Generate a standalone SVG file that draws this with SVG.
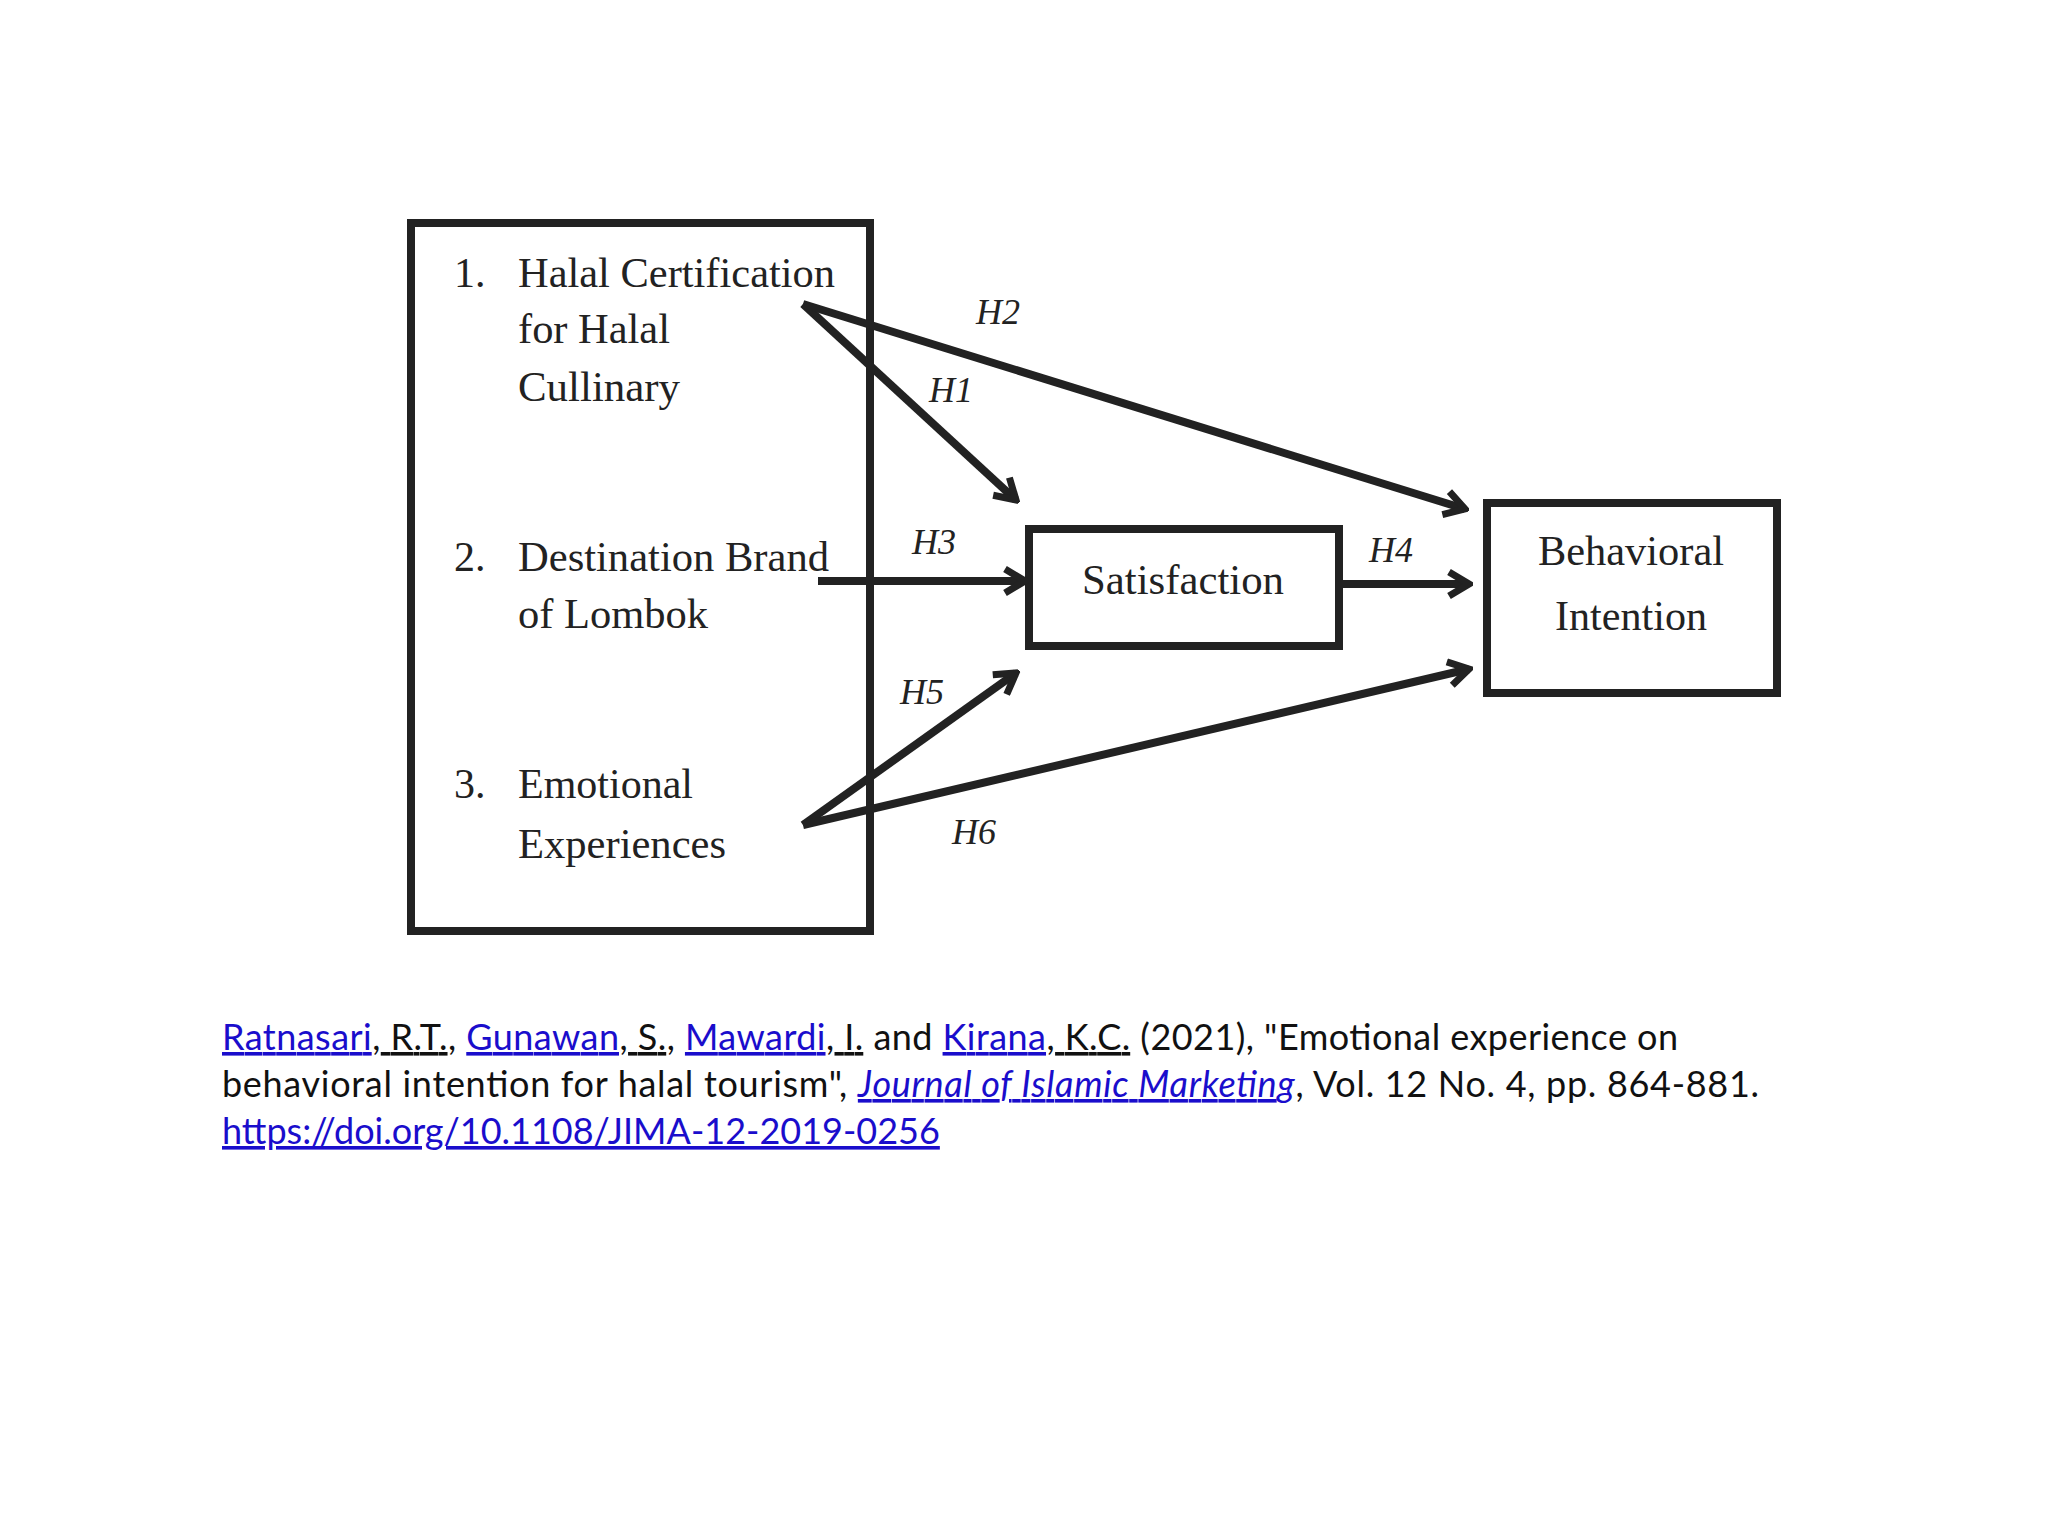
<svg xmlns="http://www.w3.org/2000/svg" width="2048" height="1536" viewBox="0 0 2048 1536">
<style>
.box{fill:none;stroke:#222;stroke-width:8}
.t{font-family:"Liberation Serif","DejaVu Serif",serif;font-size:42px;fill:#222}
.h{font-family:"Liberation Serif",serif;font-style:italic;font-size:36px;fill:#222}
.c{stroke:#222;stroke-width:8;fill:none}
.cit{font-family:Lato,"Liberation Sans",sans-serif;font-size:36px;fill:#111}
.l{fill:#1a0dcc;text-decoration:underline}
.u{text-decoration:underline}
</style>
<defs>
<marker id="ah" markerUnits="userSpaceOnUse" viewBox="0 0 30 30" refX="26" refY="15" markerWidth="30" markerHeight="30" orient="auto">
<path d="M6,3 L26,15 L6,27" fill="none" stroke="#222" stroke-width="7"/>
</marker>
</defs>
<rect width="2048" height="1536" fill="#fff"/>
<g id="sources">
<rect class="box" x="411" y="223" width="459" height="708"/>
<text class="t" x="454" y="287">1.</text>
<text class="t" x="518" y="287" textLength="317" lengthAdjust="spacingAndGlyphs">Halal Certification</text>
<text class="t" x="518" y="343" textLength="152" lengthAdjust="spacingAndGlyphs">for Halal</text>
<text class="t" x="518" y="401" textLength="162" lengthAdjust="spacingAndGlyphs">Cullinary</text>
<text class="t" x="454" y="571">2.</text>
<text class="t" x="518" y="571" textLength="311" lengthAdjust="spacingAndGlyphs">Destination Brand</text>
<text class="t" x="518" y="628" textLength="190" lengthAdjust="spacingAndGlyphs">of Lombok</text>
<text class="t" x="454" y="798">3.</text>
<text class="t" x="518" y="798" textLength="175" lengthAdjust="spacingAndGlyphs">Emotional</text>
<text class="t" x="518" y="858" textLength="208" lengthAdjust="spacingAndGlyphs">Experiences</text>
</g>
<g id="satisfaction">
<rect class="box" x="1029" y="529" width="310" height="117"/>
<text class="t" x="1183" y="594" text-anchor="middle" textLength="202" lengthAdjust="spacingAndGlyphs">Satisfaction</text>
</g>
<g id="behavioral">
<rect class="box" x="1487" y="503" width="290" height="190"/>
<text class="t" x="1631" y="565" text-anchor="middle" textLength="186" lengthAdjust="spacingAndGlyphs">Behavioral</text>
<text class="t" x="1631" y="630" text-anchor="middle" textLength="152" lengthAdjust="spacingAndGlyphs">Intention</text>
</g>
<g id="connectors">
<line class="c" x1="803" y1="304" x2="1016" y2="500" marker-end="url(#ah)"/>
<line class="c" x1="803" y1="304" x2="1465" y2="509" marker-end="url(#ah)"/>
<line class="c" x1="818" y1="581" x2="1025" y2="581" marker-end="url(#ah)"/>
<line class="c" x1="1341" y1="584" x2="1469" y2="584" marker-end="url(#ah)"/>
<line class="c" x1="803" y1="825" x2="1016" y2="673" marker-end="url(#ah)"/>
<line class="c" x1="803" y1="825" x2="1469" y2="669" marker-end="url(#ah)"/>
<text class="h" x="951" y="402" text-anchor="middle">H1</text>
<text class="h" x="998" y="324" text-anchor="middle">H2</text>
<text class="h" x="934" y="554" text-anchor="middle">H3</text>
<text class="h" x="1391" y="562" text-anchor="middle">H4</text>
<text class="h" x="922" y="704" text-anchor="middle">H5</text>
<text class="h" x="974" y="844" text-anchor="middle">H6</text>
</g>
<g id="citation">
<text class="cit" x="222" y="1050" textLength="1456" lengthAdjust="spacing"><tspan class="l">Ratnasari</tspan><tspan class="u">, R.T.</tspan>, <tspan class="l">Gunawan</tspan><tspan class="u">, S.</tspan>, <tspan class="l">Mawardi</tspan><tspan class="u">, I.</tspan> and <tspan class="l">Kirana</tspan><tspan class="u">, K.C.</tspan> (2021), "Emotional experience on</text>
<text class="cit" x="222" y="1097" textLength="1537" lengthAdjust="spacing">behavioral intention for halal tourism", <tspan class="l" font-style="italic">Journal of Islamic Marketing</tspan>, Vol. 12 No. 4, pp. 864-881.</text>
<text class="cit" x="222" y="1144"><tspan class="l">https://doi.org/10.1108/JIMA-12-2019-0256</tspan></text>
</g>
</svg>
